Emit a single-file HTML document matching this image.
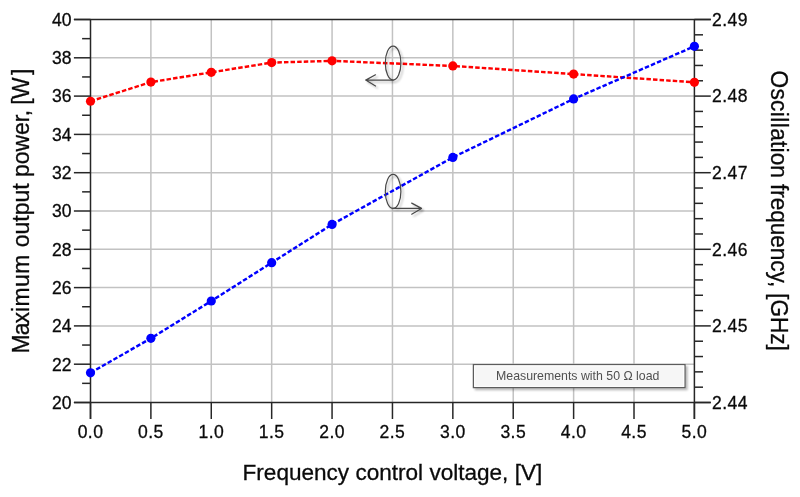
<!DOCTYPE html>
<html><head><meta charset="utf-8"><title>chart</title>
<style>
html,body{margin:0;padding:0;background:#fff;}
body{width:800px;height:497px;overflow:hidden;font-family:"Liberation Sans",sans-serif;}
svg{display:block;will-change:transform;}
text{font-family:"Liberation Sans",sans-serif;fill:#0a0a0a;stroke:#0a0a0a;stroke-width:0.3px;}
</style></head><body>
<svg width="800" height="497" viewBox="0 0 800 497">
<defs>
<filter id="sh" x="-30%" y="-30%" width="160%" height="180%"><feGaussianBlur in="SourceAlpha" stdDeviation="1.3"/><feOffset dx="1.6" dy="1.6"/><feComponentTransfer><feFuncA type="linear" slope="0.28"/></feComponentTransfer><feMerge><feMergeNode/><feMergeNode in="SourceGraphic"/></feMerge></filter>
</defs>
<rect width="800" height="497" fill="#fff"/>
<g stroke="#c2c2c2" stroke-width="1.5" fill="none"><line x1="150.89" y1="19.5" x2="150.89" y2="402.5"/><line x1="211.28" y1="19.5" x2="211.28" y2="402.5"/><line x1="271.67" y1="19.5" x2="271.67" y2="402.5"/><line x1="332.06" y1="19.5" x2="332.06" y2="402.5"/><line x1="392.45" y1="19.5" x2="392.45" y2="402.5"/><line x1="452.84" y1="19.5" x2="452.84" y2="402.5"/><line x1="513.23" y1="19.5" x2="513.23" y2="402.5"/><line x1="573.62" y1="19.5" x2="573.62" y2="402.5"/><line x1="634.01" y1="19.5" x2="634.01" y2="402.5"/><line x1="90.5" y1="364.20" x2="694.4" y2="364.20"/><line x1="90.5" y1="325.90" x2="694.4" y2="325.90"/><line x1="90.5" y1="287.60" x2="694.4" y2="287.60"/><line x1="90.5" y1="249.30" x2="694.4" y2="249.30"/><line x1="90.5" y1="211.00" x2="694.4" y2="211.00"/><line x1="90.5" y1="172.70" x2="694.4" y2="172.70"/><line x1="90.5" y1="134.40" x2="694.4" y2="134.40"/><line x1="90.5" y1="96.10" x2="694.4" y2="96.10"/><line x1="90.5" y1="57.80" x2="694.4" y2="57.80"/></g>
<g filter="url(#sh)"><rect x="473.4" y="364.6" width="211.6" height="23" fill="#f6f6f6" stroke="#5c5c5c" stroke-width="1.3"/></g>
<rect x="474.7" y="365.9" width="209" height="20.4" fill="none" stroke="#fff" stroke-width="1"/>
<text transform="translate(496.0,379.8) scale(0.95,1)" text-anchor="start" font-size="13" style="fill:#505050;stroke:none">Measurements with 50 &#937; load</text>
<g stroke="#262626" stroke-width="1.5" fill="none"><line x1="90.5" y1="19.5" x2="90.5" y2="419.0"/><line x1="694.4" y1="19.5" x2="694.4" y2="419.0"/><line x1="73.9" y1="19.5" x2="710.8" y2="19.5"/><line x1="73.9" y1="402.5" x2="710.8" y2="402.5"/><line x1="73.9" y1="402.50" x2="90.5" y2="402.50"/><line x1="82.1" y1="383.35" x2="90.5" y2="383.35"/><line x1="73.9" y1="364.20" x2="90.5" y2="364.20"/><line x1="82.1" y1="345.05" x2="90.5" y2="345.05"/><line x1="73.9" y1="325.90" x2="90.5" y2="325.90"/><line x1="82.1" y1="306.75" x2="90.5" y2="306.75"/><line x1="73.9" y1="287.60" x2="90.5" y2="287.60"/><line x1="82.1" y1="268.45" x2="90.5" y2="268.45"/><line x1="73.9" y1="249.30" x2="90.5" y2="249.30"/><line x1="82.1" y1="230.15" x2="90.5" y2="230.15"/><line x1="73.9" y1="211.00" x2="90.5" y2="211.00"/><line x1="82.1" y1="191.85" x2="90.5" y2="191.85"/><line x1="73.9" y1="172.70" x2="90.5" y2="172.70"/><line x1="82.1" y1="153.55" x2="90.5" y2="153.55"/><line x1="73.9" y1="134.40" x2="90.5" y2="134.40"/><line x1="82.1" y1="115.25" x2="90.5" y2="115.25"/><line x1="73.9" y1="96.10" x2="90.5" y2="96.10"/><line x1="82.1" y1="76.95" x2="90.5" y2="76.95"/><line x1="73.9" y1="57.80" x2="90.5" y2="57.80"/><line x1="82.1" y1="38.65" x2="90.5" y2="38.65"/><line x1="73.9" y1="19.50" x2="90.5" y2="19.50"/><line x1="694.4" y1="402.50" x2="710.8" y2="402.50"/><line x1="694.4" y1="387.18" x2="703.0" y2="387.18"/><line x1="694.4" y1="371.86" x2="703.0" y2="371.86"/><line x1="694.4" y1="356.54" x2="703.0" y2="356.54"/><line x1="694.4" y1="341.22" x2="703.0" y2="341.22"/><line x1="694.4" y1="325.90" x2="710.8" y2="325.90"/><line x1="694.4" y1="310.58" x2="703.0" y2="310.58"/><line x1="694.4" y1="295.26" x2="703.0" y2="295.26"/><line x1="694.4" y1="279.94" x2="703.0" y2="279.94"/><line x1="694.4" y1="264.62" x2="703.0" y2="264.62"/><line x1="694.4" y1="249.30" x2="710.8" y2="249.30"/><line x1="694.4" y1="233.98" x2="703.0" y2="233.98"/><line x1="694.4" y1="218.66" x2="703.0" y2="218.66"/><line x1="694.4" y1="203.34" x2="703.0" y2="203.34"/><line x1="694.4" y1="188.02" x2="703.0" y2="188.02"/><line x1="694.4" y1="172.70" x2="710.8" y2="172.70"/><line x1="694.4" y1="157.38" x2="703.0" y2="157.38"/><line x1="694.4" y1="142.06" x2="703.0" y2="142.06"/><line x1="694.4" y1="126.74" x2="703.0" y2="126.74"/><line x1="694.4" y1="111.42" x2="703.0" y2="111.42"/><line x1="694.4" y1="96.10" x2="710.8" y2="96.10"/><line x1="694.4" y1="80.78" x2="703.0" y2="80.78"/><line x1="694.4" y1="65.46" x2="703.0" y2="65.46"/><line x1="694.4" y1="50.14" x2="703.0" y2="50.14"/><line x1="694.4" y1="34.82" x2="703.0" y2="34.82"/><line x1="694.4" y1="19.50" x2="710.8" y2="19.50"/><line x1="90.50" y1="402.5" x2="90.50" y2="419.0"/><line x1="150.89" y1="402.5" x2="150.89" y2="419.0"/><line x1="211.28" y1="402.5" x2="211.28" y2="419.0"/><line x1="271.67" y1="402.5" x2="271.67" y2="419.0"/><line x1="332.06" y1="402.5" x2="332.06" y2="419.0"/><line x1="392.45" y1="402.5" x2="392.45" y2="419.0"/><line x1="452.84" y1="402.5" x2="452.84" y2="419.0"/><line x1="513.23" y1="402.5" x2="513.23" y2="419.0"/><line x1="573.62" y1="402.5" x2="573.62" y2="419.0"/><line x1="634.01" y1="402.5" x2="634.01" y2="419.0"/><line x1="694.40" y1="402.5" x2="694.40" y2="419.0"/></g>
<g font-size="18.5"><text transform="translate(71.60,408.80) scale(0.95,1)" text-anchor="end">20</text><text transform="translate(71.60,370.50) scale(0.95,1)" text-anchor="end">22</text><text transform="translate(71.60,332.20) scale(0.95,1)" text-anchor="end">24</text><text transform="translate(71.60,293.90) scale(0.95,1)" text-anchor="end">26</text><text transform="translate(71.60,255.60) scale(0.95,1)" text-anchor="end">28</text><text transform="translate(71.60,217.30) scale(0.95,1)" text-anchor="end">30</text><text transform="translate(71.60,179.00) scale(0.95,1)" text-anchor="end">32</text><text transform="translate(71.60,140.70) scale(0.95,1)" text-anchor="end">34</text><text transform="translate(71.60,102.40) scale(0.95,1)" text-anchor="end">36</text><text transform="translate(71.60,64.10) scale(0.95,1)" text-anchor="end">38</text><text transform="translate(71.60,25.80) scale(0.95,1)" text-anchor="end">40</text><text transform="translate(712.10,408.80) scale(0.95,1)" text-anchor="start" letter-spacing="0.45">2.44</text><text transform="translate(712.10,332.20) scale(0.95,1)" text-anchor="start" letter-spacing="0.45">2.45</text><text transform="translate(712.10,255.60) scale(0.95,1)" text-anchor="start" letter-spacing="0.45">2.46</text><text transform="translate(712.10,179.00) scale(0.95,1)" text-anchor="start" letter-spacing="0.45">2.47</text><text transform="translate(712.10,102.40) scale(0.95,1)" text-anchor="start" letter-spacing="0.45">2.48</text><text transform="translate(712.10,25.80) scale(0.95,1)" text-anchor="start" letter-spacing="0.45">2.49</text><text transform="translate(90.50,438.2) scale(0.95,1)" text-anchor="middle" letter-spacing="0.45">0.0</text><text transform="translate(150.89,438.2) scale(0.95,1)" text-anchor="middle" letter-spacing="0.45">0.5</text><text transform="translate(211.28,438.2) scale(0.95,1)" text-anchor="middle" letter-spacing="0.45">1.0</text><text transform="translate(271.67,438.2) scale(0.95,1)" text-anchor="middle" letter-spacing="0.45">1.5</text><text transform="translate(332.06,438.2) scale(0.95,1)" text-anchor="middle" letter-spacing="0.45">2.0</text><text transform="translate(392.45,438.2) scale(0.95,1)" text-anchor="middle" letter-spacing="0.45">2.5</text><text transform="translate(452.84,438.2) scale(0.95,1)" text-anchor="middle" letter-spacing="0.45">3.0</text><text transform="translate(513.23,438.2) scale(0.95,1)" text-anchor="middle" letter-spacing="0.45">3.5</text><text transform="translate(573.62,438.2) scale(0.95,1)" text-anchor="middle" letter-spacing="0.45">4.0</text><text transform="translate(634.01,438.2) scale(0.95,1)" text-anchor="middle" letter-spacing="0.45">4.5</text><text transform="translate(694.40,438.2) scale(0.95,1)" text-anchor="middle" letter-spacing="0.45">5.0</text></g>
<text transform="translate(392.4,479.7) scale(0.99,1)" text-anchor="middle" font-size="22.8">Frequency control voltage, [V]</text>
<text transform="translate(28.7,353.6) rotate(-90) scale(0.956,1)" text-anchor="start" dx="0 -0.9 -0.9 0 0.4 0.3 0.7 0.5 0.5 0 0 0 0 0 0 0 0 0 0 0 -0.5 -0.5 -0.8 -0.6 2.4" font-size="24.0">Maximum output power, [W]</text>
<text transform="translate(771.0,70.6) rotate(90) scale(0.9455,1)" text-anchor="start" dx="0 0.2 0.2 0.45 0.45 0.45 0.45 0.2 0.2 0.2 0 0 -0.13 -0.13 -0.13 -0.13 -0.13 -0.13 -0.13 -0.13 -0.13 -0.13 -0.13 -0.13 -0.13 -0.13 -0.13 -0.13" font-size="24.0">Oscillation frequency, [GHz]</text>
<polyline points="90.50,101.27 150.89,82.12 211.28,72.35 271.67,62.59 332.06,60.86 452.84,65.94 573.62,74.08 694.40,82.31" fill="none" stroke="#ff0000" stroke-width="2.45" stroke-dasharray="4.5 2.1"/><circle cx="90.50" cy="101.27" r="4.6" fill="#ff0000"/><circle cx="150.89" cy="82.12" r="4.6" fill="#ff0000"/><circle cx="211.28" cy="72.35" r="4.6" fill="#ff0000"/><circle cx="271.67" cy="62.59" r="4.6" fill="#ff0000"/><circle cx="332.06" cy="60.86" r="4.6" fill="#ff0000"/><circle cx="452.84" cy="65.94" r="4.6" fill="#ff0000"/><circle cx="573.62" cy="74.08" r="4.6" fill="#ff0000"/><circle cx="694.40" cy="82.31" r="4.6" fill="#ff0000"/>
<polyline points="90.50,372.82 150.89,338.35 211.28,301.00 271.67,262.70 332.06,224.41 452.84,157.38 573.62,98.97 694.40,46.31" fill="none" stroke="#0000ff" stroke-width="2.45" stroke-dasharray="4.5 2.1"/><circle cx="90.50" cy="372.82" r="4.6" fill="#0000ff"/><circle cx="150.89" cy="338.35" r="4.6" fill="#0000ff"/><circle cx="211.28" cy="301.00" r="4.6" fill="#0000ff"/><circle cx="271.67" cy="262.70" r="4.6" fill="#0000ff"/><circle cx="332.06" cy="224.41" r="4.6" fill="#0000ff"/><circle cx="452.84" cy="157.38" r="4.6" fill="#0000ff"/><circle cx="573.62" cy="98.97" r="4.6" fill="#0000ff"/><circle cx="694.40" cy="46.31" r="4.6" fill="#0000ff"/>
<g filter="url(#sh)" stroke="#484848" stroke-width="1.2" fill="none" stroke-linecap="round" stroke-linejoin="round">
<ellipse cx="393.1" cy="63.1" rx="7.8" ry="17"/>
<path d="M393.1 80.1 H365.7 M375.5 74.8 L365.7 80.1 L375.5 86"/>
<ellipse cx="393.1" cy="191.4" rx="7.8" ry="17"/>
<path d="M393.1 208.4 H421.5 M411.7 203.1 L421.5 208.4 L411.7 214.2"/>
</g>
</svg></body></html>
